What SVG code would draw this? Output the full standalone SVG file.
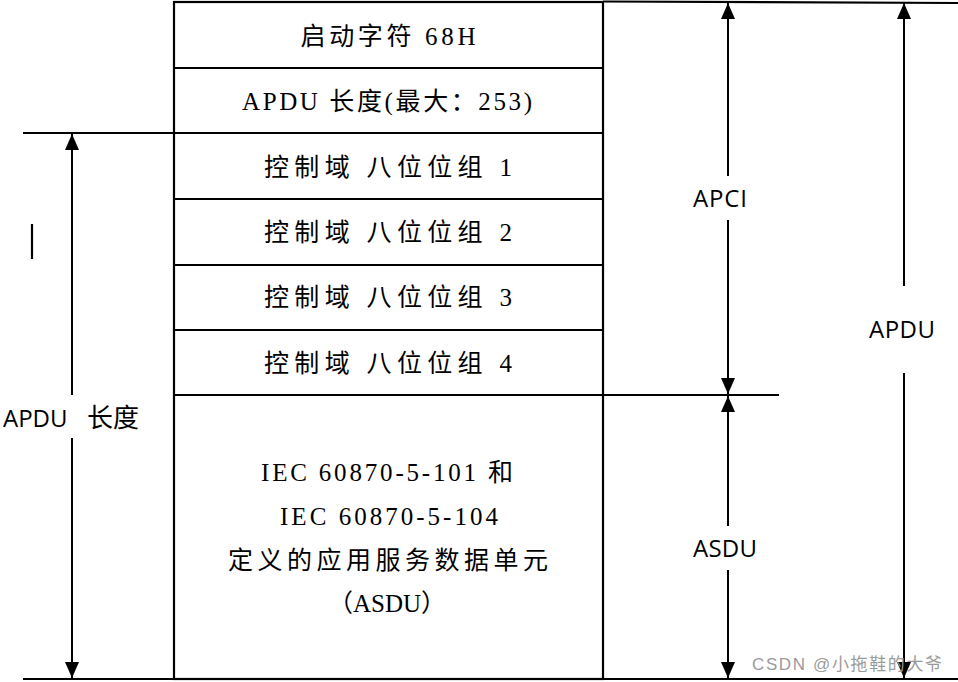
<svg xmlns="http://www.w3.org/2000/svg" width="958" height="682" viewBox="0 0 958 682">
<defs>
<style>
.ln{stroke:#000;stroke-width:2.2;fill:none}
.ar{stroke:#000;stroke-width:2;fill:none}
.cell{font-family:"Liberation Serif","Noto Sans CJK SC",serif;font-size:25px;fill:#000;text-anchor:middle}
.lbl{font-family:"Open Sans","Liberation Sans","Noto Sans CJK SC",sans-serif;font-size:24px;fill:#000;text-anchor:middle}
.wm{font-family:"Liberation Sans","Noto Sans CJK SC",sans-serif;font-size:17px;fill:#9a9a9a}
</style>
<marker id="ah" viewBox="0 0 16 14" refX="16" refY="7" markerWidth="16" markerHeight="14" markerUnits="userSpaceOnUse" orient="auto-start-reverse">
<path d="M0,0 L16,7 L0,14 Z" fill="#000"/>
</marker>
</defs>
<rect width="958" height="682" fill="#fff"/>

<g id="frame">
<rect x="174" y="2" width="429" height="677" class="ln"/>
<line x1="603" y1="1.5" x2="958" y2="3" class="ln"/>
<line x1="23" y1="133" x2="174" y2="133" class="ln"/>
<line x1="603" y1="395" x2="779" y2="395" class="ln"/>
<line x1="23" y1="679" x2="958" y2="679" class="ln"/>
<line x1="32" y1="224" x2="32" y2="259" class="ln"/>
</g>

<g id="row-start">
<line x1="174" y1="68" x2="603" y2="68" class="ln"/>
<text class="cell" x="388" y="45" textLength="175" lengthAdjust="spacing">启动字符 68H</text>
</g>
<g id="row-length">
<line x1="174" y1="133" x2="603" y2="133" class="ln"/>
<text class="cell" x="387" y="110" textLength="290" lengthAdjust="spacing">APDU 长度(最大：253)</text>
</g>
<g id="row-ctrl1">
<line x1="174" y1="199" x2="603" y2="199" class="ln"/>
<text class="cell" x="388" y="176" textLength="248" lengthAdjust="spacing">控制域 八位位组 1</text>
</g>
<g id="row-ctrl2">
<line x1="174" y1="265" x2="603" y2="265" class="ln"/>
<text class="cell" x="388" y="241" textLength="248" lengthAdjust="spacing">控制域 八位位组 2</text>
</g>
<g id="row-ctrl3">
<line x1="174" y1="330" x2="603" y2="330" class="ln"/>
<text class="cell" x="388" y="306" textLength="248" lengthAdjust="spacing">控制域 八位位组 3</text>
</g>
<g id="row-ctrl4">
<line x1="174" y1="395" x2="603" y2="395" class="ln"/>
<text class="cell" x="388" y="372" textLength="248" lengthAdjust="spacing">控制域 八位位组 4</text>
</g>
<g id="row-asdu">
<text class="cell" x="387" y="481" textLength="252" lengthAdjust="spacing">IEC 60870-5-101 和</text>
<text class="cell" x="389" y="525" textLength="218" lengthAdjust="spacing">IEC 60870-5-104</text>
<text class="cell" x="388" y="569" textLength="320" lengthAdjust="spacing">定义的应用服务数据单元</text>
<text class="cell" x="387" y="612">（ASDU）</text>
</g>

<g id="connectors">
<line x1="72" y1="134" x2="72" y2="395" class="ar" marker-start="url(#ah)"/>
<line x1="72" y1="438" x2="72" y2="678" class="ar" marker-end="url(#ah)"/>
<line x1="728" y1="3" x2="728" y2="176" class="ar" marker-start="url(#ah)"/>
<line x1="728" y1="220" x2="728" y2="394" class="ar" marker-end="url(#ah)"/>
<line x1="728" y1="396" x2="728" y2="526" class="ar" marker-start="url(#ah)"/>
<line x1="728" y1="570" x2="728" y2="678" class="ar" marker-end="url(#ah)"/>
<line x1="904" y1="3" x2="904" y2="286" class="ar" marker-start="url(#ah)"/>
<line x1="904" y1="373" x2="904" y2="678" class="ar" marker-end="url(#ah)"/>
</g>

<g id="labels">
<text class="lbl" x="3" y="427" style="text-anchor:start">APDU<tspan x="87" style="font-family:'Liberation Serif','Noto Sans CJK SC',serif;font-size:26px">长度</tspan></text>
<text class="lbl" x="720" y="207" textLength="54" lengthAdjust="spacing">APCI</text>
<text class="lbl" x="725" y="557" textLength="64" lengthAdjust="spacing">ASDU</text>
<text class="lbl" x="902" y="338" textLength="66" lengthAdjust="spacing">APDU</text>
</g>

<text class="wm" x="752" y="670" textLength="190" lengthAdjust="spacing">CSDN @小拖鞋的大爷</text>
</svg>
